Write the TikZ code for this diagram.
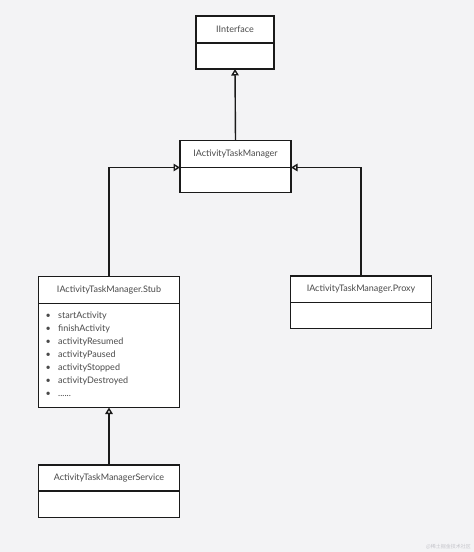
\documentclass[tikz,border=0pt]{standalone}
\usepackage{fontspec}
\setmainfont{Lato}
\newfontfamily\cjk{Noto Sans CJK SC}
\usetikzlibrary{arrows.meta}
\definecolor{bg}{HTML}{F3F3F5}
\definecolor{txt}{HTML}{4A4A4A}
\definecolor{ln}{HTML}{1A1A1A}
\definecolor{wm}{HTML}{C4C4CA}
\newcommand\mysixdots{......}
\begin{document}
\begin{tikzpicture}[x=1pt,y=-1pt,
  hdr/.style={draw=ln, line width=1.5pt, fill=white, anchor=north west, inner sep=0pt, outer sep=0pt,
    font=\fontsize{9}{10}\selectfont, text=txt},
  bdy/.style={draw=ln, line width=1.5pt, fill=white, anchor=north west, inner sep=0pt, outer sep=0pt},
  item/.style={anchor=base west, inner sep=0pt, font=\fontsize{9}{10}\selectfont, text=txt},
  inh/.style={draw=ln, line width=1.4pt, -{Triangle[open, fill=white, width=7.5pt, length=6.5pt]}}
]
\fill[bg] (0,0) rectangle (474,552);
\useasboundingbox (0,0) rectangle (474,552);

% IInterface
\node[hdr, minimum width=78pt, minimum height=27pt] (ih) at (196,16) {IInterface};
\node[bdy, minimum width=78pt, minimum height=26pt] (ib) at (ih.south west) {};

% IActivityTaskManager
\node[hdr, minimum width=111pt, minimum height=27pt] (ah) at (180,140.5) {IActivityTaskManager};
\node[bdy, minimum width=111pt, minimum height=25pt] (ab) at (ah.south west) {};

% Stub
\node[hdr, minimum width=141pt, minimum height=27pt] (sh) at (38.5,276.5) {IActivityTaskManager.Stub};
\node[bdy, minimum width=141pt, minimum height=104pt] (sb) at (sh.south west) {};
\foreach \t [count=\i] in {startActivity,finishActivity,activityResumed,activityPaused,activityStopped,activityDestroyed,\mysixdots}{
  \node[item] (m\i) at (45.5,{318.8+13*(\i-1)}) {\makebox[12.5pt][l]{\textbullet}\t};
}

% Proxy
\node[hdr, minimum width=141pt, minimum height=26.5pt] (ph) at (290.5,276) {IActivityTaskManager.Proxy};
\node[bdy, minimum width=141pt, minimum height=26pt] (pb) at (ph.south west) {};

% ActivityTaskManagerService
\node[hdr, minimum width=141pt, minimum height=26pt] (th) at (38.5,465) {ActivityTaskManagerService};
\node[bdy, minimum width=141pt, minimum height=26.5pt] (tb) at (th.south west) {};

% connectors
\draw[inh] (sh.north) |- (ah.south west);
\draw[inh] (ah.north) -- (ib.south);
\draw[inh] (ph.north -| 361,0) |- (ah.south east);
\draw[inh] (th.north) -- (sb.south);

% watermark
\node[anchor=base east, inner sep=0pt, font=\cjk\fontsize{5}{6}\selectfont, text=wm] (wmk) at (471,548) {@稀土掘金技术社区};
\end{tikzpicture}
\end{document}
